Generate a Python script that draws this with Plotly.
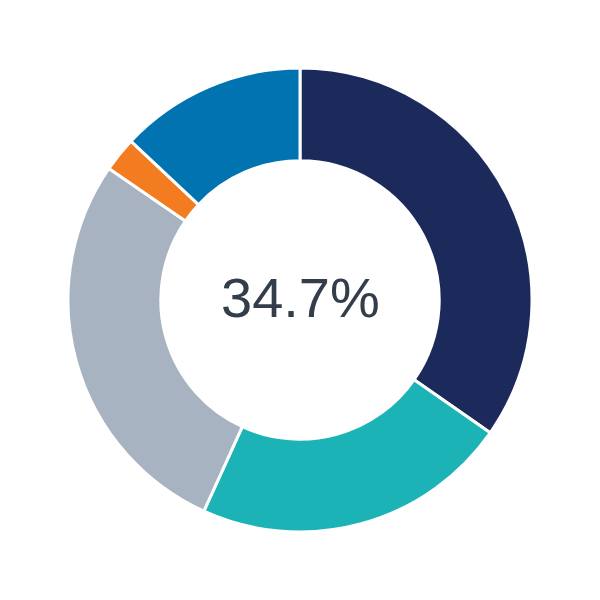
import plotly.graph_objects as go

labels = ["Navy", "Teal", "Gray", "Orange", "Blue"]
values = [34.7, 22.1, 27.8, 2.4, 13.0]
colors = ["#1b2a5a", "#1bb3b5", "#a8b3c1", "#f47c20", "#0073b0"]
center_text = "34.7%"

fig = go.Figure()
fig.add_trace(
    go.Pie(
        labels=labels,
        values=values,
        hole=0.6,
        sort=False,
        direction="clockwise",
        rotation=0,
        textinfo="none",
        hoverinfo="label+percent",
        marker=dict(colors=colors, line=dict(color="white", width=3)),
        showlegend=False,
    )
)

fig.add_annotation(
    text=center_text,
    x=0.5, y=0.5, xref="paper", yref="paper",
    yshift=3,
    showarrow=False,
    font=dict(family="Liberation Sans, Arial", size=56, color="#343d4a"),
)

# page body has an 8px margin, so shift the domain up/left to keep it centred
fig.update_layout(
    width=600, height=600,
    margin=dict(l=60, r=76, t=60, b=76),
    paper_bgcolor="white",
    plot_bgcolor="white",
)
fig.write_html("out.html")
